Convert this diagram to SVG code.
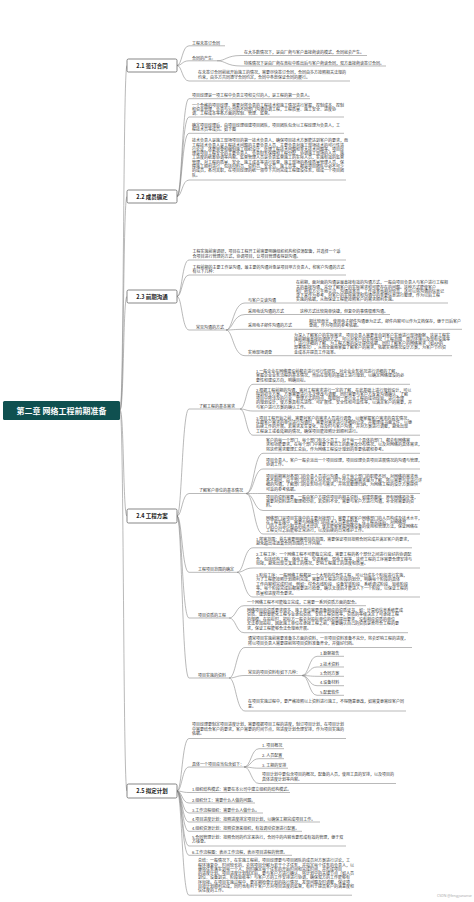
<svg xmlns="http://www.w3.org/2000/svg" width="474" height="902" viewBox="0 0 474 902">
<style>
.t{font-family:"Noto Sans CJK SC","Noto Sans",sans-serif;font-size:4px;fill:#3a3a3a}
.u{fill:none;stroke:#8a8a8a;stroke-width:0.6}
.c{fill:none;stroke:#8a8a8a;stroke-width:0.6}
.sec rect{fill:#fff;stroke:#555;stroke-width:0.7}
.sec text{font-family:"Noto Sans CJK SC","Noto Sans",sans-serif;font-size:5.5px;font-weight:bold;text-anchor:middle;fill:#222}
.root rect{fill:#0f5050}
.root text{font-family:"Noto Sans CJK SC","Noto Sans",sans-serif;fill:#fff;font-size:8px;font-weight:bold;text-anchor:middle}
.wm{font-family:"Noto Sans","Liberation Sans",sans-serif;font-size:3.5px;fill:#aaa}
</style>
<rect width="474" height="902" fill="#fff"/>

<g id="connectors">
<!-- root to sections -->
<path class="c" d="M120 410 C124 410 123 65.5 127 65.5"/>
<path class="c" d="M120 410 C124 410 123 196.5 127 196.5"/>
<path class="c" d="M120 410 C124 410 123 296.5 127 296.5"/>
<path class="c" d="M120 410 C124 410 123 516 127 516"/>
<path class="c" d="M120 410 C124 410 123 791 127 791"/>
<!-- 2.1 -->
<path class="c" d="M177 65.5 C182 65.5 182 45.8 189 45.8"/>
<path class="c" d="M177 65.5 C182 65.5 182 60.8 189 60.8"/>
<path class="c" d="M177 65.5 C182 65.5 182 81 189 81"/>
<path class="c" d="M217 60.8 C226 60.8 226 55.5 241 55.5"/>
<path class="c" d="M217 60.8 C226 60.8 226 66 241 66"/>
<!-- 2.2 -->
<path class="c" d="M177 196.5 C182 196.5 182 98.7 189 98.7"/>
<path class="c" d="M177 196.5 C182 196.5 182 117 189 117"/>
<path class="c" d="M177 196.5 C182 196.5 182 133.3 189 133.3"/>
<path class="c" d="M177 196.5 C182 196.5 182 180 189 180"/>
<!-- 2.3 -->
<path class="c" d="M177 296.5 C182 296.5 182 260 189 260"/>
<path class="c" d="M177 296.5 C182 296.5 182 275 189 275"/>
<path class="c" d="M177 296.5 C182 296.5 182 330 189 330"/>
<path class="c" d="M226 330 C233 330 233 303 245 303"/>
<path class="c" d="M226 330 C233 330 233 314.5 245 314.5"/>
<path class="c" d="M226 330 C233 330 233 329.3 245 329.3"/>
<path class="c" d="M226 330 C233 330 233 355.7 245 355.7"/>
<path class="c" d="M279 303 H293"/>
<path class="c" d="M285 314.5 H296"/>
<path class="c" d="M293 329.3 H306"/>
<path class="c" d="M273 355.7 H291"/>
<!-- 2.4 -->
<path class="c" d="M177 516 C182 516 182 409 189 409"/>
<path class="c" d="M177 516 C182 516 182 493.5 189 493.5"/>
<path class="c" d="M177 516 C182 516 182 572.3 189 572.3"/>
<path class="c" d="M177 516 C182 516 182 618 189 618"/>
<path class="c" d="M177 516 C182 516 182 678 189 678"/>
<path class="c" d="M240 409 C246 409 246 384.3 253 384.3"/>
<path class="c" d="M240 409 C246 409 246 411 253 411"/>
<path class="c" d="M240 409 C246 409 246 435.2 253 435.2"/>
<path class="c" d="M246 493.5 C254 493.5 254 453.3 263 453.3"/>
<path class="c" d="M246 493.5 C254 493.5 254 469 263 469"/>
<path class="c" d="M246 493.5 C254 493.5 254 493.5 263 493.5"/>
<path class="c" d="M246 493.5 C254 493.5 254 510.5 263 510.5"/>
<path class="c" d="M246 493.5 C254 493.5 254 534 263 534"/>
<path class="c" d="M237 572.3 C244 572.3 244 547.8 253 547.8"/>
<path class="c" d="M237 572.3 C244 572.3 244 568 253 568"/>
<path class="c" d="M237 572.3 C244 572.3 244 597 253 597"/>
<path class="c" d="M229 618 C236 618 236 605.7 244 605.7"/>
<path class="c" d="M229 618 C236 618 236 632.7 244 632.7"/>
<path class="c" d="M229 678 C236 678 236 647.5 245 647.5"/>
<path class="c" d="M229 678 C236 678 236 675.5 245 675.5"/>
<path class="c" d="M229 678 C236 678 236 711 245 711"/>
<path class="c" d="M302 675.5 C309 675.5 309 656.3 317 656.3"/>
<path class="c" d="M302 675.5 C309 675.5 309 667 317 667"/>
<path class="c" d="M302 675.5 C309 675.5 309 676.3 317 676.3"/>
<path class="c" d="M302 675.5 C309 675.5 309 685.7 317 685.7"/>
<path class="c" d="M302 675.5 C309 675.5 309 695.3 317 695.3"/>
<!-- 2.5 -->
<path class="c" d="M177 791 C182 791 182 738.5 189 738.5"/>
<path class="c" d="M177 791 C182 791 182 767 189 767"/>
<path class="c" d="M177 791 C182 791 182 792.5 189 792.5"/>
<path class="c" d="M177 791 C182 791 182 803 189 803"/>
<path class="c" d="M177 791 C182 791 182 813 189 813"/>
<path class="c" d="M177 791 C182 791 182 822 189 822"/>
<path class="c" d="M177 791 C182 791 182 831.3 189 831.3"/>
<path class="c" d="M177 791 C182 791 182 846 189 846"/>
<path class="c" d="M177 791 C182 791 182 855.3 189 855.3"/>
<path class="c" d="M177 791 C182 791 182 895.2 189 895.2"/>
<path class="c" d="M244 767 C251 767 251 748.7 259 748.7"/>
<path class="c" d="M244 767 C251 767 251 758.7 259 758.7"/>
<path class="c" d="M244 767 C251 767 251 768.2 259 768.2"/>
<path class="c" d="M244 767 C251 767 251 783.5 259 783.5"/>
</g>

<g id="root" class="root">
<rect x="3" y="401" width="117" height="19" rx="1.5"/>
<text x="61.5" y="413.5">第二章 网络工程前期准备</text>
</g>

<!-- ===== 2.1 ===== -->
<g id="s21" class="sec"><rect x="127" y="59" width="50" height="13" rx="1.5"/><text x="152" y="67.6">2.1 签订合同</text></g>
<g id="n21a"><text class="t" x="192" y="44.5">工程未签订合同</text><path class="u" d="M189 45.8H225"/></g>
<g id="n21b"><text class="t" x="192" y="59.5">合同的产生:</text><path class="u" d="M189 60.8H217"/></g>
<g id="n21b1"><text class="t" x="244" y="54.2">在大多数情况下，是由厂商与客户直接商谈的模式，合同就会产生。</text><path class="u" d="M241 55.5H367"/></g>
<g id="n21b2"><text class="t" x="244" y="64.5">特殊情况下是由厂商在竞标中胜出后与客户商谈合同，双方直接商谈签订合同。</text><path class="u" d="M241 66H386"/></g>
<g id="n21c"><text class="t" x="198" y="74"><tspan x="198">在未签订合同前就开始施工的情况，需要尽快签订合同，合同由多方按照相关法规的</tspan><tspan x="198" dy="4.5">约束，由多方共同遵守合同约定，合同中条款保证合同的履行。</tspan></text><path class="u" d="M189 81H350"/></g>

<!-- ===== 2.2 ===== -->
<g id="s22" class="sec"><rect x="127" y="190" width="50" height="13" rx="1.5"/><text x="152" y="198.6">2.2 成员确定</text></g>
<g id="n22a"><text class="t" x="192" y="97.2">项目经理是一项工程中负责立项和交付的人，是工程的第一负责人。</text><path class="u" d="M189 98.7H310"/></g>
<g id="n22b"><text class="t" x="192" y="106.5"><tspan x="192">一个合格的项目经理，需要对所负责的工程技术和施工情况进行掌握，控制成本，控制</tspan><tspan x="192" dy="4.3">和资金管理，负责与公司的不同部门沟通协调工程，工程质量、施工安全、进度协</tspan><tspan x="192" dy="4.3">调、工程成本等各方面的控制、管理、监督。</tspan></text><path class="u" d="M189 117H344"/></g>
<g id="n22c"><text class="t" x="192" y="126.5"><tspan x="192">确定项目经理后，由项目经理组建项目团队，项目团队包含以工程经理为负责人，工</tspan><tspan x="192" dy="4.3">程技术员等成员。如下图</tspan></text><path class="u" d="M189 133.3H344"/></g>
<g id="n22d"><text class="t" x="192" y="142.2"><tspan x="192">技术负责人是施工现场项目的第一技术负责人，确保项目技术方案能达到客户的要求，而</tspan><tspan x="192" dy="4.3">工程技术负责人是工程技术问题的主要负责人员，主要负责对施工现场技术的可行性进</tspan><tspan x="192" dy="4.3">行论证，还要审查和编制施工组织设计，处理工程技术问题和重大技术问题等。项目经</tspan><tspan x="192" dy="4.3">理是项目工程安全的主要负责人，负责财务保障和工程分配，协调施工现场的人员，施</tspan><tspan x="192" dy="4.3">工进度的统筹协调等内容。监督管理人员是负责监督施工的实际人员，实施有效的监督</tspan><tspan x="192" dy="4.3">管理，对工程的质量、安全、施工成本等进行监督，施工现场的各级质量管理人员，保</tspan><tspan x="192" dy="4.3">障施工顺利进行，包括材料员、资料员、安全员、施工员等，都是项目团队中必不可少</tspan><tspan x="192" dy="4.3">的成员，各司其职，在项目经理的统一领导下共同完成工程建设任务，组成一个项目团</tspan><tspan x="192" dy="4.3">队。</tspan></text><path class="u" d="M189 180H346"/></g>

<!-- ===== 2.3 ===== -->
<g id="s23" class="sec"><rect x="127" y="290" width="50" height="13" rx="1.5"/><text x="152" y="298.6">2.3 前期沟通</text></g>
<g id="n23a"><text class="t" x="192.5" y="253.2"><tspan x="192.5">工程实施前需调研，项目在工程开工前需要明确组织机构和资源配备，并选择一个适</tspan><tspan x="192.5" dy="4.3">合项目进行管理的方式，协调项目，让项目管理者得到沟通。</tspan></text><path class="u" d="M189 260H346"/></g>
<g id="n23b"><text class="t" x="192.5" y="268.8"><tspan x="192.5">工程前期的主要工作是沟通，最主要的沟通对象是项目甲方负责人，和客户沟通的方式</tspan><tspan x="192.5" dy="4.3">有以下几种：</tspan></text><path class="u" d="M189 275H346"/></g>
<g id="n23c"><text class="t" x="196" y="328.8">常见沟通的方式</text><path class="u" d="M189 330H226"/></g>
<g id="n23c1"><text class="t" x="248" y="301.5">与客户交谈沟通</text><path class="u" d="M245 303H279"/></g>
<g id="n23c1a"><text class="t" x="296" y="284.2"><tspan x="296">在前期，面对面的沟通是最直接有效的沟通方式，一般由项目负责人与客户进行工程相</tspan><tspan x="296" dy="4.3">关的直接沟通，充分了解客户的实际需求和可能存在的问题。这种方式能使客户</tspan><tspan x="296" dy="4.3">和厂商双方公平地交流，沟通效率高，工作效率也相对较高，还可以将沟通的信息记</tspan><tspan x="296" dy="4.3">录下来作为参考，对客户的实际需求和沟通中的重要信息进行整理，作为以后工程</tspan><tspan x="296" dy="4.3">实施的依据，从而保证工程能按照客户的需求顺利实施。</tspan></text><path class="u" d="M293 303H448"/></g>
<g id="n23c2"><text class="t" x="248" y="313">采用电话沟通的方式</text><path class="u" d="M245 314.5H285"/></g>
<g id="n23c2a"><text class="t" x="300" y="313">这种方式比较简单快捷，但复杂的事情很难沟通。</text><path class="u" d="M296 314.5H390"/></g>
<g id="n23c3"><text class="t" x="248" y="326.8">采用电子邮件沟通的方式</text><path class="u" d="M245 329.3H293"/></g>
<g id="n23c3a"><text class="t" x="309" y="322.5"><tspan x="309">相比较而言，使用电子邮件沟通更为正式，邮件内容可以作为文档保存，便于日后客户</tspan><tspan x="309" dy="4.3">查阅，作为项目的参考依据。</tspan></text><path class="u" d="M306 329.3H462"/></g>
<g id="n23c4"><text class="t" x="248" y="354">实地现场调查</text><path class="u" d="M245 355.7H273"/></g>
<g id="n23c4a"><text class="t" x="294" y="336.5"><tspan x="294">为深入了解客户的实际需求，项目负责人需要亲自到客户实地进行现场勘察，这是工程实</tspan><tspan x="294" dy="4.3">施前期最直接的调研方式，可以对客户的实际情况（工程范围、周边环境以及现有设施等</tspan><tspan x="294" dy="4.3">）进行详细的了解，为工程方案的设计提供依据，同时了解客户的网络需求（如AP的</tspan><tspan x="294" dy="4.3">部署情况），从而全面地掌握了解客户的需求，依据实地情况设计方案，为客户节约资</tspan><tspan x="294" dy="4.3">金成本并提高工作效率。</tspan></text><path class="u" d="M291 355.7H452"/></g>

<!-- ===== 2.4 ===== -->
<g id="s24" class="sec"><rect x="127" y="509" width="50" height="14" rx="1.5"/><text x="152" y="518">2.4 工程方案</text></g>
<g id="n24A"><text class="t" x="199" y="407.5">了解工程的基本需求</text><path class="u" d="M189 409H240"/></g>
<g id="n24A1"><text class="t" x="256" y="373"><tspan x="256">1.一般企业在网络建设前都会进行可行性研究，对企业业务状况进行详细的了解，</tspan><tspan x="256" dy="4.3">掌握企业业务流程的基本情况，然后在现有的基础上进行规划，以确定网络建设的必</tspan><tspan x="256" dy="4.3">要性和建设方向，明确目标。</tspan></text><path class="u" d="M253 384.3H410"/></g>
<g id="n24A2"><text class="t" x="256" y="391.5"><tspan x="256">2.根据工程前期的沟通，需对工程需求进行一定的了解，在此基础上进行规划设计，可以</tspan><tspan x="256" dy="4.3">得到初步方案。方案需要进行多次修改与调整，同时需要与客户方反复沟通确认，了解</tspan><tspan x="256" dy="4.3">项目中所涉及的行业、管理方式的特点，吸取同一类行业工程的成功经验，进行合理</tspan><tspan x="256" dy="4.3">的规划设计，使方案具有先进性、可扩展性、安全性和可靠性等，以满足客户的需要，并</tspan><tspan x="256" dy="4.3">与客户进行方案的确认工作。</tspan></text><path class="u" d="M253 411H420"/></g>
<g id="n24A3"><text class="t" x="256" y="419.8"><tspan x="256">3.项目工程开始之前，需要对客户的需求人员进行调查，以便掌握客户需求的真实情况，</tspan><tspan x="256" dy="4.3">在跟客户需求的单位进行沟通时，需要对需求进行详细的记录，并整理成书面文件，以便</tspan><tspan x="256" dy="4.3">后续工作的开展。若需求发生变化，应及时与客户沟通，并对方案进行调整，避免出现</tspan><tspan x="256" dy="4.3">工程返工或者延期的情况，确保项目能按照计划顺利进行。</tspan></text><path class="u" d="M253 435.2H420"/></g>
<g id="n24B"><text class="t" x="199" y="491.8">了解客户单位的基本情况</text><path class="u" d="M189 493.5H246"/></g>
<g id="n24B1"><text class="t" x="266" y="442"><tspan x="266">客户的每一个部门，每个部门有多少员工，对于每一个具体的部门，都会有网络需</tspan><tspan x="266" dy="4.3">求和功能要求，在每个部门中需要了解员工的数量及分布情况，以及对网络的具体需求，</tspan><tspan x="266" dy="4.3">将这些需求整理汇总后，作为网络工程设计规划的重要依据和参考。</tspan></text><path class="u" d="M263 453.3H420"/></g>
<g id="n24B2"><text class="t" x="266" y="461.8"><tspan x="266">项目负责人，客户一般会派出一个项目经理，项目经理负责项目进展情况的沟通与管理，</tspan><tspan x="266" dy="4.3">协调工作。</tspan></text><path class="u" d="M263 469H420"/></g>
<g id="n24B3"><text class="t" x="266" y="477.7"><tspan x="266">项目前期需对各部门的负责人员进行沟通，由于每个部门的职能不同，对网络的需求也</tspan><tspan x="266" dy="4.3">各不相同，由于部门的负责人对本部门的工作流程和需求最为了解，所以需要与其进行详</tspan><tspan x="266" dy="4.3">细的沟通，了解部门的业务特点与需求，并将其整理归纳，为网络工程的设计方案提供</tspan><tspan x="266" dy="4.3">可靠的参考依据。</tspan></text><path class="u" d="M263 493.5H420"/></g>
<g id="n24B4"><text class="t" x="266" y="498.5"><tspan x="266">项目的资料需要，一般由客户方提供项目的相关资料，如建筑图纸、原有网络拓扑等，</tspan><tspan x="266" dy="4.3">需要对资料进行整理和分析，若资料不全，需要与客户方进行沟通，补全所需要的资</tspan><tspan x="266" dy="4.3">料。</tspan></text><path class="u" d="M263 510.5H420"/></g>
<g id="n24B5"><text class="t" x="266" y="519.5"><tspan x="266">网络部门是项目实施中的主要对接部门，需要了解客户网络部门的人员构成及技术水平，</tspan><tspan x="266" dy="4.3">在工程实施中，需要与网络部门的技术人员紧密配合，在工程完成后，对网络部</tspan><tspan x="266" dy="4.3">门的人员进行相关的技术培训，使其能够掌握网络设备的使用和管理方法，保证网络在</tspan><tspan x="266" dy="4.3">工程交付之后能够正常运行，以及后续的日常维护工作。</tspan></text><path class="u" d="M263 534H420"/></g>
<g id="n24C"><text class="t" x="198" y="571">工程项目范围的确定</text><path class="u" d="M189 572.3H237"/></g>
<g id="n24C1"><text class="t" x="256" y="541"><tspan x="256">1.所需范围：首先需要明确项目的范围，需要保证项目按照合同完成并满足客户的要求，</tspan><tspan x="256" dy="4.3">避免超出或遗漏合同范围的工作内容。</tspan></text><path class="u" d="M253 547.8H412"/></g>
<g id="n24C2"><text class="t" x="256" y="556.1"><tspan x="256">2.工程工序：一个网络工程不可能独立完成，需要工程的各个部分之间进行良好的协调配</tspan><tspan x="256" dy="4.6">合，包括结构工程、强电工程、空调系统、弱电工程等，这些工程的工序需要合理安排与</tspan><tspan x="256" dy="4.6">衔接，避免出现交叉施工的情况，影响工程施工的进度和质量。</tspan></text><path class="u" d="M253 568H420"/></g>
<g id="n24C3"><text class="t" x="256" y="576.5"><tspan x="256">3.阶段工序：一般网络工程都是一个大型的综合性工程，可以分成多个阶段进行实施，</tspan><tspan x="256" dy="4.5">为了工程能按照计划顺利完成，需要对工程进行阶段的划分，明确每个阶段的具体</tspan><tspan x="256" dy="4.5">工作内容和完成时间，例如：综合布线阶段、设备安装阶段、系统调试阶段、验收阶段</tspan><tspan x="256" dy="4.5">等。每个阶段完成后都需要进行检查，确认无误后才能进入下一个阶段，以保证工程的</tspan><tspan x="256" dy="4.5">质量和进度符合要求。</tspan></text><path class="u" d="M253 597H420"/></g>
<g id="n24D"><text class="t" x="198" y="616.5">项目资质的工程</text><path class="u" d="M189 618H229"/></g>
<g id="n24D1"><text class="t" x="247" y="604.2">一个网络工程不可能独立完成，它需要一系列资质方面的配合。</text><path class="u" d="M244 605.7H366"/></g>
<g id="n24D2"><text class="t" x="247" y="611.5"><tspan x="247">网络项目的资质要求很多，施工单位需要具备相应的资质证书，如：计算机信息系统集成</tspan><tspan x="247" dy="4.5">资质、建筑智能化工程专业承包资质、安防工程资质等，资质的等级决定了可承接工程</tspan><tspan x="247" dy="4.5">的规模。在投标时，招标方一般会对投标单位的资质提出要求，没有相应资质的单位</tspan><tspan x="247" dy="4.5">无法参加投标，因此施工单位在承接工程之前，需要确认自己的资质是否符合工程的要</tspan><tspan x="247" dy="4.5">求，保证工程能够合法合规地开展。</tspan></text><path class="u" d="M244 632.7H408"/></g>
<g id="n24E"><text class="t" x="198" y="676.5">项目实施的资料</text><path class="u" d="M189 678H229"/></g>
<g id="n24E1"><text class="t" x="248" y="639.8"><tspan x="248">通常项目实施前需要准备多方面的资料，一旦项目资料准备不充分，将会影响工程的进度，</tspan><tspan x="248" dy="4.7">所以项目负责人需要提前将项目资料准备齐全，并做好归档。</tspan></text><path class="u" d="M245 647.5H412"/></g>
<g id="n24E2"><text class="t" x="248" y="674.2">常见的项目资料有如下几种：</text><path class="u" d="M245 675.5H302"/></g>
<g id="n24E2a"><text class="t" x="320" y="654.8">1.勘察报告</text><path class="u" d="M317 656.3H344"/></g>
<g id="n24E2b"><text class="t" x="320" y="665.5">2.技术资料</text><path class="u" d="M317 667H344"/></g>
<g id="n24E2c"><text class="t" x="320" y="674.8">3.合同方案</text><path class="u" d="M317 676.3H344"/></g>
<g id="n24E2d"><text class="t" x="320" y="684.2">4.设备材料</text><path class="u" d="M317 685.7H344"/></g>
<g id="n24E2e"><text class="t" x="320" y="693.8">5.配套软件</text><path class="u" d="M317 695.3H344"/></g>
<g id="n24E3"><text class="t" x="248" y="703.2"><tspan x="248">在项目实施过程中，要严格按照以上资料进行施工，不得随意更改，如需变更需经客户同</tspan><tspan x="248" dy="4.8">意。</tspan></text><path class="u" d="M245 711H406"/></g>

<!-- ===== 2.5 ===== -->
<g id="s25" class="sec"><rect x="127" y="784" width="50" height="14" rx="1.5"/><text x="152" y="793">2.5 拟定计划</text></g>
<g id="n25a"><text class="t" x="192" y="726"><tspan x="192">项目经理要制定项目进度计划，需要根据项目工程的进度，制订项目计划，在项目计划</tspan><tspan x="192" dy="4.7">中需要结合客户的要求，客户需要的时间节点，将进度计划合理安排，作为项目实施的</tspan><tspan x="192" dy="4.7">依据。</tspan></text><path class="u" d="M189 738.5H346"/></g>
<g id="n25b"><text class="t" x="192" y="765.5">具体一个项目应当包含如下：</text><path class="u" d="M189 767H244"/></g>
<g id="n25b1"><text class="t" x="262" y="747.2">1. 项目概况</text><path class="u" d="M259 748.7H284"/></g>
<g id="n25b2"><text class="t" x="262" y="757.2">2. 人员配置</text><path class="u" d="M259 758.7H284"/></g>
<g id="n25b3"><text class="t" x="262" y="766.7">3. 工期的安排</text><path class="u" d="M259 768.2H288"/></g>
<g id="n25b4"><text class="t" x="262" y="775.8"><tspan x="262">项目计划中要包含项目的概况，配备的人员，使用工具的安排，以及项目的</tspan><tspan x="262" dy="4.7">具体进度计划等内容。</tspan></text><path class="u" d="M259 783.5H396"/></g>
<g id="n25c"><text class="t" x="192" y="790.8">1.组织结构模式：需要在本公司中建立组织的结构模式。</text><path class="u" d="M189 792.5H290"/></g>
<g id="n25d"><text class="t" x="192" y="801.5">2.组织分工：需要什么人做的问题。</text><path class="u" d="M189 803H255"/></g>
<g id="n25e"><text class="t" x="192" y="811.5">3.工作流程组织：需要什么人做什么。</text><path class="u" d="M189 813H263"/></g>
<g id="n25f"><text class="t" x="192" y="820.5">4.项目进度计划：按照进度排定项目计划，以确保工期完成项目工作。</text><path class="u" d="M189 822H320"/></g>
<g id="n25g"><text class="t" x="192" y="829.8">4.组织资源计划：按照资源来组织，有效调动资源进行配置。</text><path class="u" d="M189 831.3H302"/></g>
<g id="n25h"><text class="t" x="192" y="838.8"><tspan x="192">5.合同管理计划：按照合同的约定来执行，合同中的内容也要形成有效的管理，便于双</tspan><tspan x="192" dy="4.4">方核查。</tspan></text><path class="u" d="M189 846H346"/></g>
<g id="n25i"><text class="t" x="192" y="853.8">6.工作流程图：表示工作流程，表示项目进程的管理。</text><path class="u" d="M189 855.3H292"/></g>
<g id="n25j"><text class="t" x="198" y="862.2"><tspan x="198">总结：一般情况下，在实施工程前，项目经理要与项目团队的成员对方案进行讨论，工</tspan><tspan x="198" dy="4.3">程环境复杂、时间较长的，会将项目分解为若干个子任务，并指定每个任务的负责人，以</tspan><tspan x="198" dy="4.3">便将任务落实到每一个人，同时确定每个任务的开始时间和完成时间，并形成项目</tspan><tspan x="198" dy="4.3">的进度计划。项目进度计划制定后，要与客户方进行确认，将计划中的关键节点（如人员</tspan><tspan x="198" dy="4.3">到位、设备到货、阶段验收等）与客户方的工作安排进行协调，确保双方的工作能够有</tspan><tspan x="198" dy="4.3">序衔接。在项目实施过程中，要定期检查计划的执行情况，发现问题及时调整，保证项</tspan><tspan x="198" dy="4.3">目按计划顺利完成，同时也有利于客户方对项目进度的监督，有利于提高客户的满意度和</tspan><tspan x="198" dy="4.3">信任度的工作。</tspan></text><path class="u" d="M189 895.2H352"/></g>

<text class="wm" x="437" y="896.5">CSDN @fengyunanse</text>
</svg>
